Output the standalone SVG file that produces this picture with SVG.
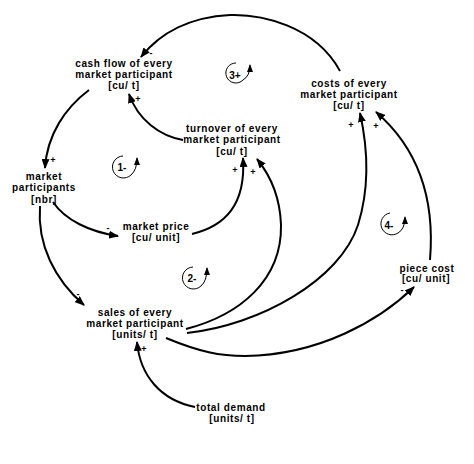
<svg xmlns="http://www.w3.org/2000/svg" width="474" height="464" viewBox="0 0 474 464">
<defs>
<marker id="ah" viewBox="0 0 10 8" refX="9" refY="4" markerWidth="10" markerHeight="8" markerUnits="userSpaceOnUse" orient="auto">
<path d="M0,0 L10,4 L0,8 Z" fill="#000"/>
</marker>
<marker id="ahs" viewBox="0 0 8 6" refX="7" refY="3" markerWidth="8" markerHeight="7" markerUnits="userSpaceOnUse" orient="auto">
<path d="M0,0 L8,3 L0,6 Z" fill="#000"/>
</marker>
<style>
.lbl{font-family:"Liberation Sans",Arial,sans-serif;font-size:10px;font-weight:bold;letter-spacing:0.6px;text-anchor:middle;fill:#000}
.sg{font-family:"Liberation Sans",Arial,sans-serif;font-size:9px;font-weight:bold;text-anchor:middle;fill:#000}
.lp{font-family:"Liberation Sans",Arial,sans-serif;font-size:10px;font-weight:bold;text-anchor:middle;fill:#000}
.c{fill:none;stroke:#000;stroke-width:2;marker-end:url(#ah)}
.lm{fill:none;stroke:#000;stroke-width:1;marker-end:url(#ahs)}
</style>
</defs>
<rect width="474" height="464" fill="#fff"/>
<g id="connectors">
<path class="c" d="M340,71 C315,25 260,14 230,15 C190,17 160,33 141,57"/>
<path class="c" d="M89,90 C65,108 47,135 45,168"/>
<path class="c" d="M183,140 C160,136 138,120 129,94"/>
<path class="c" d="M53,202 C65,220 90,232 118,236"/>
<path class="c" d="M40,206 C37,245 55,280 84,305"/>
<path class="c" d="M192,234 C225,226 246,205 243,158"/>
<path class="c" d="M186,329 C240,315 282,280 281,225 C280,195 270,175 257,159"/>
<path class="c" d="M187,333 C260,325 340,280 358,225 C372,180 366,140 360,113"/>
<path class="c" d="M166,338 C200,352 220,356 245,356 C320,355 380,320 414,287"/>
<path class="c" d="M430,260 C435,200 420,150 376,112"/>
<path class="c" d="M195,407 C160,400 140,375 137,342"/>
</g>
<g id="signs">
<text class="sg" x="151" y="56">-</text>
<text class="sg" x="53" y="163">+</text>
<text class="sg" x="138" y="102">+</text>
<text class="sg" x="108" y="231">-</text>
<text class="sg" x="78" y="297">-</text>
<text class="sg" x="235" y="173">+</text>
<text class="sg" x="253" y="175">+</text>
<text class="sg" x="351" y="128">+</text>
<text class="sg" x="376" y="129">+</text>
<text class="sg" x="402" y="293">-</text>
<text class="sg" x="144" y="352">+</text>
</g>
<g id="loop1">
<path class="lm" d="M123,156 A11,11 0 1 0 131,175 Q137,170 137,158"/>
<text class="lp" x="122" y="171">1-</text>
</g>
<g id="loop2">
<path class="lm" d="M193,267 A11,11 0 1 0 201,286 Q207,281 207,268"/>
<text class="lp" x="192" y="282">2-</text>
</g>
<g id="loop3">
<path class="lm" d="M236,63 A10,10 0 1 0 243,80 Q250,76 250,65"/>
<text class="lp" x="235" y="79">3+</text>
</g>
<g id="loop4">
<path class="lm" d="M390,213 A11,11 0 1 0 398,233 Q405,229 405,217"/>
<text class="lp" x="389" y="229">4-</text>
</g>
<g id="cashflow">
<text class="lbl" x="124" y="67">cash flow of every</text>
<text class="lbl" x="124" y="78">market participant</text>
<text class="lbl" x="124" y="89">[cu/ t]</text>
</g>
<g id="costs">
<text class="lbl" x="349" y="87">costs of every</text>
<text class="lbl" x="349" y="98">market participant</text>
<text class="lbl" x="349" y="109">[cu/ t]</text>
</g>
<g id="turnover">
<text class="lbl" x="232" y="132">turnover of every</text>
<text class="lbl" x="232" y="143">market participant</text>
<text class="lbl" x="232" y="155">[cu/ t]</text>
</g>
<g id="participants">
<text class="lbl" x="44" y="180">market</text>
<text class="lbl" x="44" y="191">participants</text>
<text class="lbl" x="44" y="203">[nbr]</text>
</g>
<g id="price">
<text class="lbl" x="156" y="230">market price</text>
<text class="lbl" x="156" y="241">[cu/ unit]</text>
</g>
<g id="sales">
<text class="lbl" x="135" y="316">sales of every</text>
<text class="lbl" x="135" y="327">market participant</text>
<text class="lbl" x="135" y="338">[units/ t]</text>
</g>
<g id="piececost">
<text class="lbl" x="427" y="272">piece cost</text>
<text class="lbl" x="426" y="282">[cu/ unit]</text>
</g>
<g id="demand">
<text class="lbl" x="231" y="411">total demand</text>
<text class="lbl" x="232" y="422">[units/ t]</text>
</g>
</svg>
